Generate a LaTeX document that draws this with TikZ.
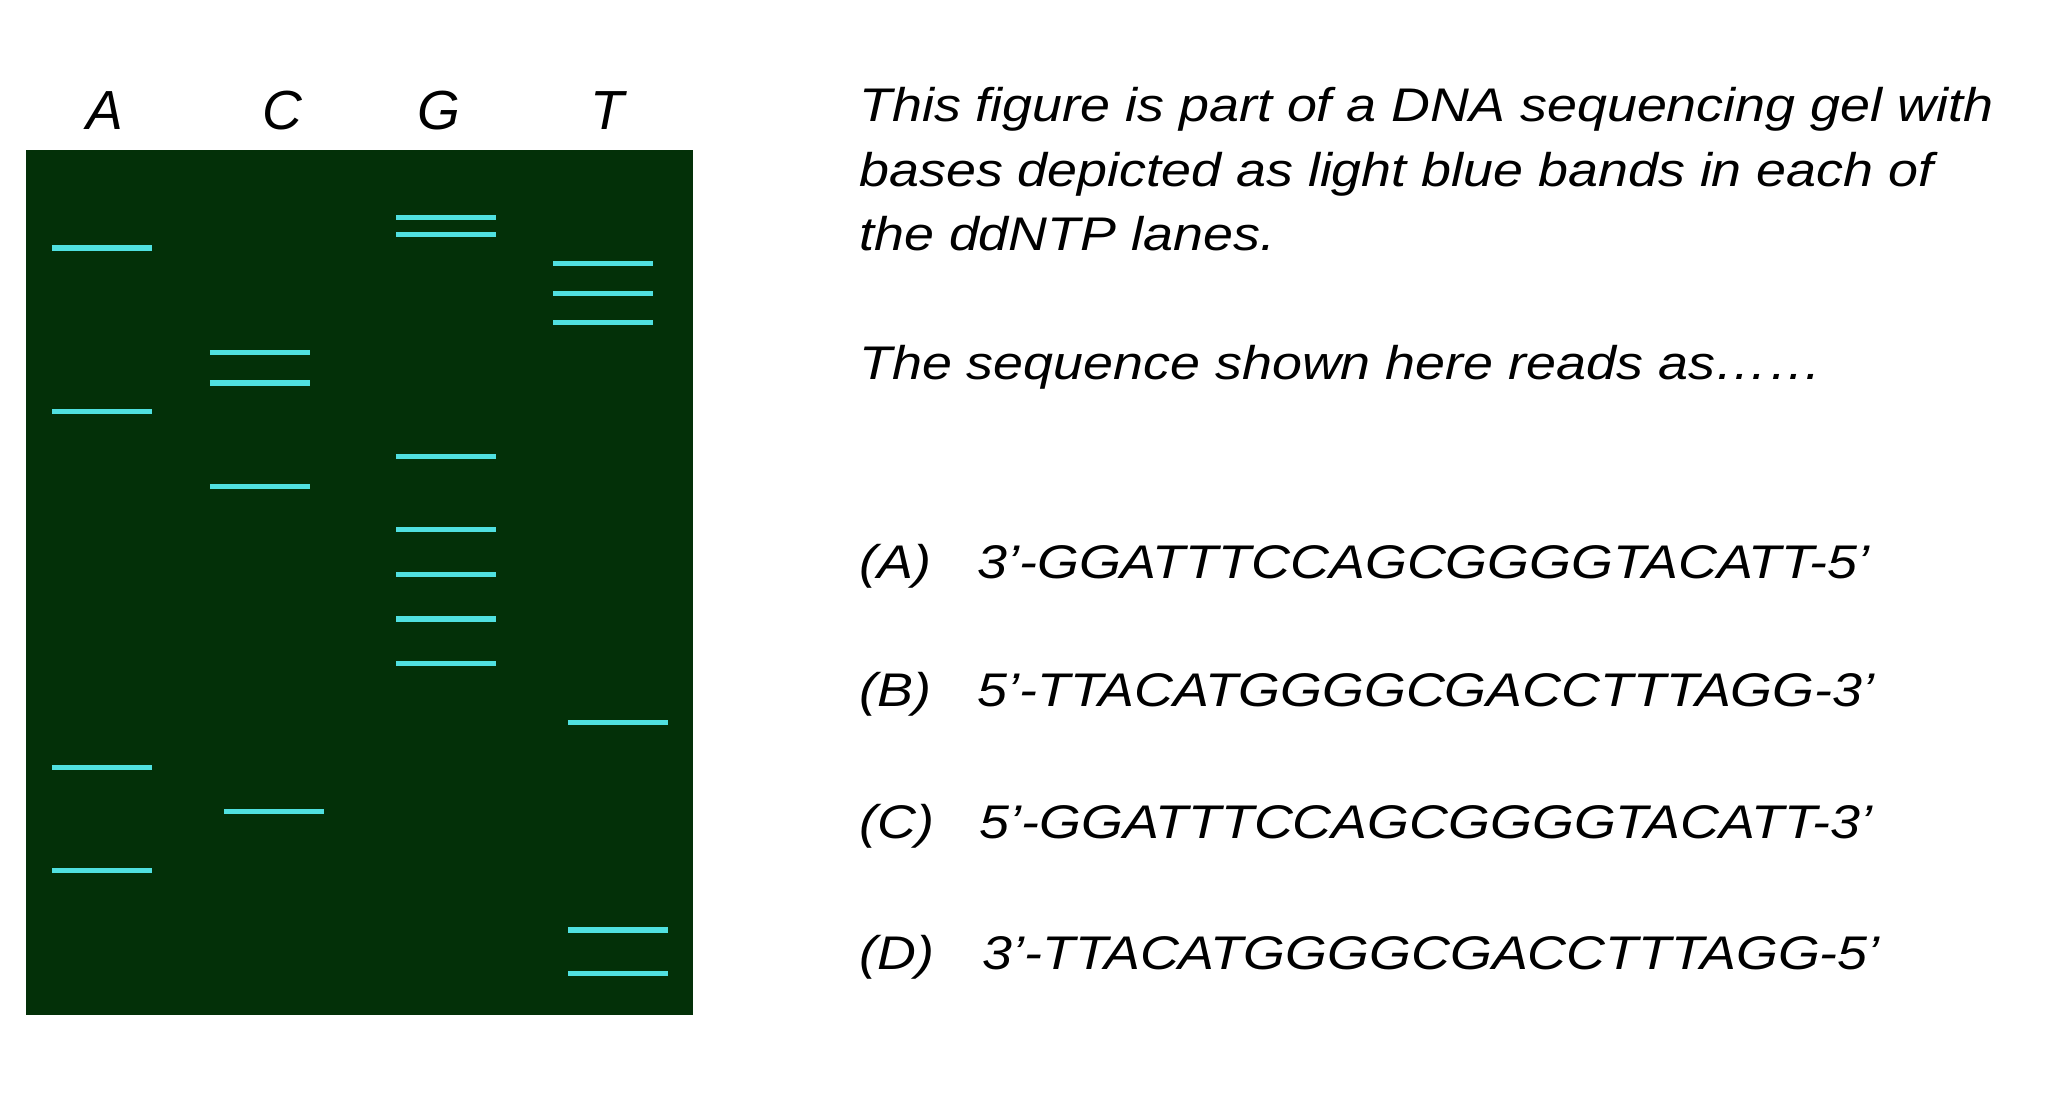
\documentclass[tikz,border=0pt]{standalone}
\usepackage{fontspec}
\setmainfont{Liberation Sans}
\newfontfamily\widefont[FakeStretch=1.14]{Liberation Sans}
\begin{document}
\begin{tikzpicture}[x=1pt,y=-1pt,
  band/.style={draw={rgb,255:red,80;green,224;blue,224},line width=4pt},
  txt/.style={anchor=base west,font=\widefont\fontsize{36}{43}\selectfont\itshape,inner sep=0},
  lane/.style={anchor=base,font=\fontsize{42}{50}\selectfont\itshape,inner sep=0}]
\useasboundingbox (0,0) rectangle (1560,848);
\fill[fill={rgb,255:red,3;green,48;blue,8}] (20,114) rectangle (528,774);
\node[lane] (la) at (80,99) {A};
\node[lane] (lc) at (215,99) {C};
\node[lane] (lg) at (335,99) {G};
\node[lane] (lt) at (463,99) {T};
\foreach \y in {189,314,585,664} \draw[band] (40,\y)--(116,\y);
\foreach \y in {269,292,371} \draw[band] (160,\y)--(236,\y);
\draw[band] (171,619)--(247,619);
\foreach \y in {166,179,348,404,438,472,506} \draw[band] (302,\y)--(378,\y);
\foreach \y in {201,224,246} \draw[band] (422,\y)--(498,\y);
\foreach \y in {551,709,742} \draw[band] (433,\y)--(509,\y);
\node[txt] (t1) at (655,93) {This figure is part of a DNA sequencing gel with};
\node[txt] (t2) at (655,142) {bases depicted as light blue bands in each of};
\node[txt] (t3) at (655,191) {the ddNTP lanes.};
\node[txt] (t4) at (655,289) {The sequence shown here reads as……};
\node[txt] (oa) at (655,441) {(A)};
\node[txt] (sa) at (745,441) {3’-GGATTTCCAGCGGGGTACATT-5’};
\node[txt] (ob) at (655,539) {(B)};
\node[txt] (sb) at (745,539) {5’-TTACATGGGGCGACCTTTAGG-3’};
\node[txt] (oc) at (655,639) {(C)};
\node[txt] (sc) at (747,639) {5’-GGATTTCCAGCGGGGTACATT-3’};
\node[txt] (od) at (655,739) {(D)};
\node[txt] (sd) at (749,739) {3’-TTACATGGGGCGACCTTTAGG-5’};
\end{tikzpicture}
\end{document}
